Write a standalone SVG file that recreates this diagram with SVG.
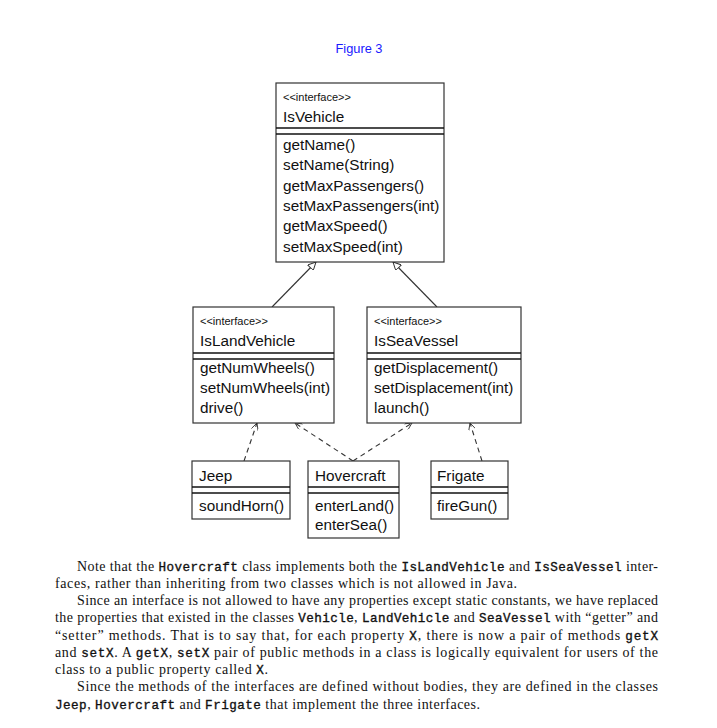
<svg xmlns="http://www.w3.org/2000/svg" width="717" height="728" viewBox="0 0 717 728">
<style>
.box{fill:#fff;stroke:#333;stroke-width:1.2}
.sep{stroke:#111;stroke-width:1.4}
.st{font-family:"Liberation Sans",Arial,sans-serif;font-size:11px;fill:#111}
.nm{font-family:"Liberation Sans",Arial,sans-serif;font-size:15.3px;fill:#111}
.inh{stroke:#333;stroke-width:1.1;fill:none}
.real{stroke:#333;stroke-width:1.1;fill:none;stroke-dasharray:5,4}
.p{font-family:"Liberation Serif","Times New Roman",serif;font-size:14px;fill:#111}
.tt{font-family:"Liberation Mono","Courier New",monospace;font-size:12.6px;stroke:#111;stroke-width:0.35}
</style>
<defs>
<marker id="tri" viewBox="0 0 10 10" refX="10" refY="5" markerWidth="9" markerHeight="8" markerUnits="userSpaceOnUse" orient="auto">
<path d="M0,0 L10,5 L0,10 z" fill="#fff" stroke="#333" stroke-width="1.2"/>
</marker>
<marker id="open" viewBox="0 0 10 10" refX="10" refY="5" markerWidth="8" markerHeight="7" markerUnits="userSpaceOnUse" orient="auto">
<path d="M0,0 L10,5 L0,10" fill="none" stroke="#333" stroke-width="1.2"/>
</marker>
</defs>
<rect width="717" height="728" fill="#fff"/>
<text x="359" y="53" text-anchor="middle" font-family="Liberation Sans,Arial,sans-serif" font-size="12.8" fill="#1a1aff">Figure 3</text>

<g id="connectors">
<path class="inh" d="M272,307 L316,262" marker-end="url(#tri)"/>
<path class="inh" d="M437,307 L393,262" marker-end="url(#tri)"/>
<path class="real" d="M244,461 L257,423" marker-end="url(#open)"/>
<path class="real" d="M353,461 L295,423" marker-end="url(#open)"/>
<path class="real" d="M353,461 L412,423" marker-end="url(#open)"/>
<path class="real" d="M482,461 L470,423" marker-end="url(#open)"/>
</g>

<g id="IsVehicle">
<rect class="box" x="276" y="83" width="168" height="179"/>
<line class="sep" x1="276" y1="128" x2="444" y2="128"/>
<line class="sep" x1="276" y1="134" x2="444" y2="134"/>
<text class="st" x="283" y="101">&lt;&lt;interface&gt;&gt;</text>
<text class="nm" x="283" y="122">IsVehicle</text>
<text class="nm" x="283" y="150">getName()</text>
<text class="nm" x="283" y="170.3">setName(String)</text>
<text class="nm" x="283" y="190.6">getMaxPassengers()</text>
<text class="nm" x="283" y="210.9">setMaxPassengers(int)</text>
<text class="nm" x="283" y="231.2">getMaxSpeed()</text>
<text class="nm" x="283" y="251.5">setMaxSpeed(int)</text>
</g>

<g id="IsLandVehicle">
<rect class="box" x="193" y="307" width="141" height="116"/>
<line class="sep" x1="193" y1="353" x2="334" y2="353"/>
<line class="sep" x1="193" y1="359" x2="334" y2="359"/>
<text class="st" x="200" y="325">&lt;&lt;interface&gt;&gt;</text>
<text class="nm" x="200" y="346">IsLandVehicle</text>
<text class="nm" x="200" y="373">getNumWheels()</text>
<text class="nm" x="200" y="393">setNumWheels(int)</text>
<text class="nm" x="200" y="413">drive()</text>
</g>

<g id="IsSeaVessel">
<rect class="box" x="367" y="307" width="154" height="116"/>
<line class="sep" x1="367" y1="353" x2="521" y2="353"/>
<line class="sep" x1="367" y1="359" x2="521" y2="359"/>
<text class="st" x="374" y="325">&lt;&lt;interface&gt;&gt;</text>
<text class="nm" x="374" y="346">IsSeaVessel</text>
<text class="nm" x="374" y="373">getDisplacement()</text>
<text class="nm" x="374" y="393">setDisplacement(int)</text>
<text class="nm" x="374" y="413">launch()</text>
</g>

<g id="Jeep">
<rect class="box" x="192" y="461" width="98" height="58"/>
<line class="sep" x1="192" y1="487" x2="290" y2="487"/>
<line class="sep" x1="192" y1="493" x2="290" y2="493"/>
<text class="nm" x="199" y="481">Jeep</text>
<text class="nm" x="199" y="511">soundHorn()</text>
</g>

<g id="Hovercraft">
<rect class="box" x="308" y="461" width="91" height="77"/>
<line class="sep" x1="308" y1="487" x2="399" y2="487"/>
<line class="sep" x1="308" y1="493" x2="399" y2="493"/>
<text class="nm" x="315" y="481">Hovercraft</text>
<text class="nm" x="315" y="511">enterLand()</text>
<text class="nm" x="315" y="530">enterSea()</text>
</g>

<g id="Frigate">
<rect class="box" x="431" y="461" width="77" height="58"/>
<line class="sep" x1="431" y1="487" x2="508" y2="487"/>
<line class="sep" x1="431" y1="493" x2="508" y2="493"/>
<text class="nm" x="437" y="481">Frigate</text>
<text class="nm" x="437" y="511">fireGun()</text>
</g>

<g id="paragraph">
<text class="p" x="77" y="571" textLength="581" lengthAdjust="spacing">Note that the <tspan class="tt">Hovercraft</tspan> class implements both the <tspan class="tt">IsLandVehicle</tspan> and <tspan class="tt">IsSeaVessel</tspan> inter-</text>
<text class="p" x="55" y="588" textLength="462" lengthAdjust="spacing">faces, rather than inheriting from two classes which is not allowed in Java.</text>
<text class="p" x="77" y="605" textLength="581" lengthAdjust="spacing">Since an interface is not allowed to have any properties except static constants, we have replaced</text>
<text class="p" x="55" y="622" textLength="603" lengthAdjust="spacing">the properties that existed in the classes <tspan class="tt">Vehicle</tspan>, <tspan class="tt">LandVehicle</tspan> and <tspan class="tt">SeaVessel</tspan> with “getter” and</text>
<text class="p" x="55" y="640" textLength="603" lengthAdjust="spacing">“setter” methods. That is to say that, for each property <tspan class="tt">X</tspan>, there is now a pair of methods <tspan class="tt">getX</tspan></text>
<text class="p" x="55" y="657" textLength="603" lengthAdjust="spacing">and <tspan class="tt">setX</tspan>. A <tspan class="tt">getX</tspan>, <tspan class="tt">setX</tspan> pair of public methods in a class is logically equivalent for users of the</text>
<text class="p" x="55" y="674" textLength="213" lengthAdjust="spacing">class to a public property called <tspan class="tt">X</tspan>.</text>
<text class="p" x="77" y="691" textLength="581" lengthAdjust="spacing">Since the methods of the interfaces are defined without bodies, they are defined in the classes</text>
<text class="p" x="55" y="709" textLength="425" lengthAdjust="spacing"><tspan class="tt">Jeep</tspan>, <tspan class="tt">Hovercraft</tspan> and <tspan class="tt">Frigate</tspan> that implement the three interfaces.</text>
</g>
</svg>
